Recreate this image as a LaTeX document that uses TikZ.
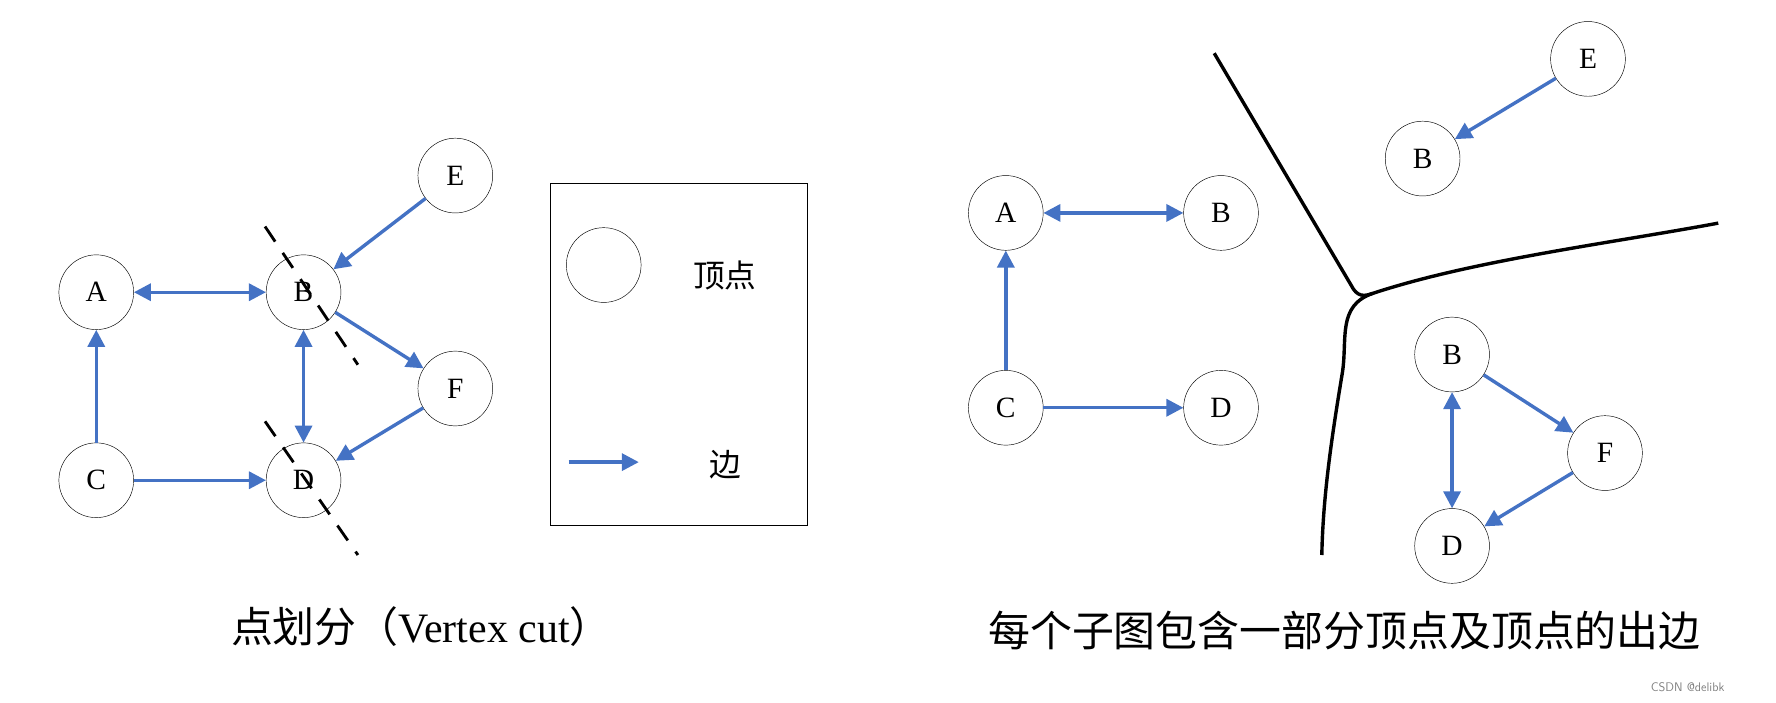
\documentclass[tikz,border=0pt]{standalone}
\usepackage{fontspec}
\setmainfont{Liberation Serif}
\newfontfamily\cjk{Noto Sans CJK SC}
\usetikzlibrary{arrows.meta}
\begin{document}
\begin{tikzpicture}[x=1pt,y=-1pt,
  v/.style={circle,draw,thin,minimum size=66pt,inner sep=0pt,font=\fontsize{26}{26}\selectfont},
  e/.style={draw={rgb,255:red,68;green,114;blue,196},line width=3pt,-{Triangle[length=15pt,width=15pt]}},
  be/.style={e,{Triangle[length=15pt,width=15pt]}-{Triangle[length=15pt,width=15pt]}},
  cut/.style={draw,line width=2.5pt,dash pattern=on 16pt off 12pt},
  wall/.style={draw,line width=3pt}]
\useasboundingbox (0,0) rectangle (1568,620);
% left graph
\node[v] (A) at (85,258) {A};
\node[v] (B) at (268,258) {B};
\node[v] (E) at (402,155) {E};
\node[v] (F) at (402,343) {F};
\node[v] (C) at (85,424) {C};
\node[v] (D) at (268,424) {D};
\draw[be] (A) -- (B);
\draw[e] (C) -- (A);
\draw[e] (C) -- (D);
\draw[be] (B) -- (D);
\draw[e] (E) -- (B);
\draw[e] (B) -- (F);
\draw[e] (F) -- (D);
\coordinate (c1) at (234,200); \coordinate (c2) at (316,322);
\coordinate (c3) at (234,372); \coordinate (c4) at (316,490);
\draw[cut] (c1) -- (c2);
\draw[cut] (c3) -- (c4);
% legend
\node[draw,thin,minimum width=227pt,minimum height=302pt,inner sep=0pt] (box) at (599.5,313) {};
\node[circle,draw,thin,minimum size=66pt,inner sep=0pt] (lv) at (533,234) {};
\node[font=\cjk\fontsize{28}{28}\selectfont] (lt1) at (640,243) {顶点};
\coordinate (la) at (502,408); \coordinate (lb) at (564,408);
\draw[e] (la) -- (lb);
\node[font=\cjk\fontsize{28}{28}\selectfont] (lt2) at (640,410) {边};
\node[font=\fontsize{37}{37}\selectfont] (cap1) at (372,553) {{\cjk 点划分（}Vertex cut{\cjk ）}};
% right
\node[v] (A2) at (888,188) {A};
\node[v] (B2) at (1078,188) {B};
\node[v] (C2) at (888,360) {C};
\node[v] (D2) at (1078,360) {D};
\draw[be] (A2) -- (B2);
\draw[e] (C2) -- (A2);
\draw[e] (C2) -- (D2);
\node[v] (E3) at (1402,52) {E};
\node[v] (B3) at (1256,140) {B};
\draw[e] (E3) -- (B3);
\node[v] (B4) at (1282,313) {B};
\node[v] (F4) at (1417,400) {F};
\node[v] (D4) at (1282,482) {D};
\draw[e] (B4) -- (F4);
\draw[e] (F4) -- (D4);
\draw[be] (B4) -- (D4);
\coordinate (w1) at (1072,47); \coordinate (j) at (1200,262);
\coordinate (w2) at (1517,197); \coordinate (w3) at (1167,490);
\draw[wall] (w1) -- (1193,252) .. controls (1198,262) and (1204,262) .. (1212,259) .. controls (1300,230) and (1420,215) .. (w2);
\draw[wall] (1212,259) .. controls (1180,270) and (1190,300) .. (1185,330) .. controls (1175,390) and (1168,440) .. (w3);
\node[font=\cjk\fontsize{37}{37}\selectfont] (cap2) at (1187,557) {每个子图包含一部分顶点及顶点的出边};
\node[font=\sffamily\fontsize{11}{11}\selectfont,text=gray] (wm) at (1490,607) {CSDN @delibk};
\end{tikzpicture}
\end{document}
